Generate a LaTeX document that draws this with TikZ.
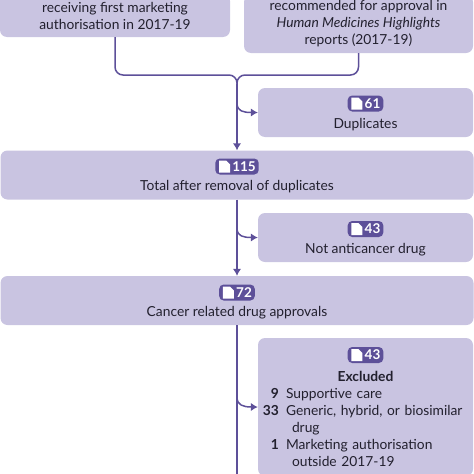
\documentclass[tikz,border=0pt]{standalone}
\usepackage{fontspec}
\usetikzlibrary{arrows.meta}
\setmainfont{Lato}
\definecolor{boxfill}{HTML}{C9C4E1}
\definecolor{linkcol}{HTML}{5D5099}
\definecolor{inkcol}{HTML}{22202E}
\newcommand{\docicon}[1]{\fill [white] ([shift={(4,-6)}]#1.west) -- ++(7,0) -- ++(4,4) -- ++(0,8) -- ++(-11,0) -- cycle;}
\begin{document}
\begin{tikzpicture}[
    x=1pt, y=-1pt,
    block/.style={rectangle, fill=boxfill, text=inkcol, align=center, rounded corners=7pt, minimum height=49pt, font=\fontsize{13.8}{17}\selectfont, inner sep=0pt},
    badge/.style={rectangle, fill=linkcol, text=white, rounded corners=4.5pt, minimum height=16pt, inner xsep=3pt, inner ysep=0pt, font=\fontsize{13.5}{14}\selectfont\bfseries, execute at begin node={\hspace*{14pt}}},
    link/.style={draw=linkcol, line width=1.5pt},
    line/.style={link, -{Latex[length=7pt,width=8.5pt]}}
]
    \useasboundingbox (0,0) rectangle (474,474);
    \clip (0,0) rectangle (474,474);
    \node [block, minimum width=230pt, minimum height=43pt] (auth) at (115,15.5) {receiving first marketing\\authorisation in 2017-19};
    \node [block, minimum width=229pt, minimum height=58pt] (hmh) at (358.5,24) {recommended for approval in\\\textit{Human Medicines Highlights}\\reports (2017-19)};
    \node [block, minimum width=215pt] (dup) at (365.5,112.5) {\strut\\[5pt]Duplicates};
    \node [block, minimum width=473pt] (total) at (237,175) {\strut\\[5pt]Total after removal of duplicates};
    \node [block, minimum width=215pt] (notcancer) at (365.5,237.5) {\strut\\[5pt]Not anticancer drug};
    \node [block, minimum width=473pt] (cancer) at (237,300.5) {\strut\\[5pt]Cancer related drug approvals};
    \node [block, minimum width=215pt, minimum height=138pt, text width=205pt, align=left] (excl) at (365.5,407) {\strut\\[5pt]
        \makebox[\linewidth]{\bfseries Excluded}\\
        \makebox[16pt][r]{\bfseries 9}\hspace{7pt}Supportive care\\
        \makebox[16pt][r]{\bfseries 33}\hspace{7pt}Generic, hybrid, or biosimilar\\
        \hspace*{29pt}drug\\
        \makebox[16pt][r]{\bfseries 1}\hspace{7pt}Marketing authorisation\\
        \hspace*{29pt}outside 2017-19};

    \node [badge] (ndup) at (365.5,103.5) {61};
    \node [badge] (ntotal) at (237,166.5) {115};
    \node [badge] (nnot) at (365.5,229) {43};
    \node [badge] (ncancer) at (237,292.5) {72};
    \node [badge] (nexcl) at (365.5,355) {43};
    \docicon{ndup}
    \docicon{ntotal}
    \docicon{nnot}
    \docicon{ncancer}
    \docicon{nexcl}

    \coordinate (joint) at (237,75);
    \coordinate (merge) at (237,84);
    \coordinate (tapa) at (237,104);
    \coordinate (tapb) at (237,229);
    \coordinate (tapc) at (237,398);
    \coordinate (tail) at (237,480);

    \draw [link, rounded corners=8pt] (auth.south) |- (joint) -- (merge);
    \draw [link, rounded corners=8pt] (hmh.south) |- (joint) -- (merge);
    \draw [line] (merge) -- (total);
    \draw [line] (tapa) .. controls (237.5,111) and (243,112.5) .. (dup.west);
    \draw [line] (total) -- (cancer);
    \draw [line] (tapb) .. controls (237.5,236) and (243,237.5) .. (notcancer.west);
    \draw [link] (cancer) -- (tail);
    \draw [line] (tapc) .. controls (237.5,405) and (243,407) .. (excl.west);
\end{tikzpicture}
\end{document}
